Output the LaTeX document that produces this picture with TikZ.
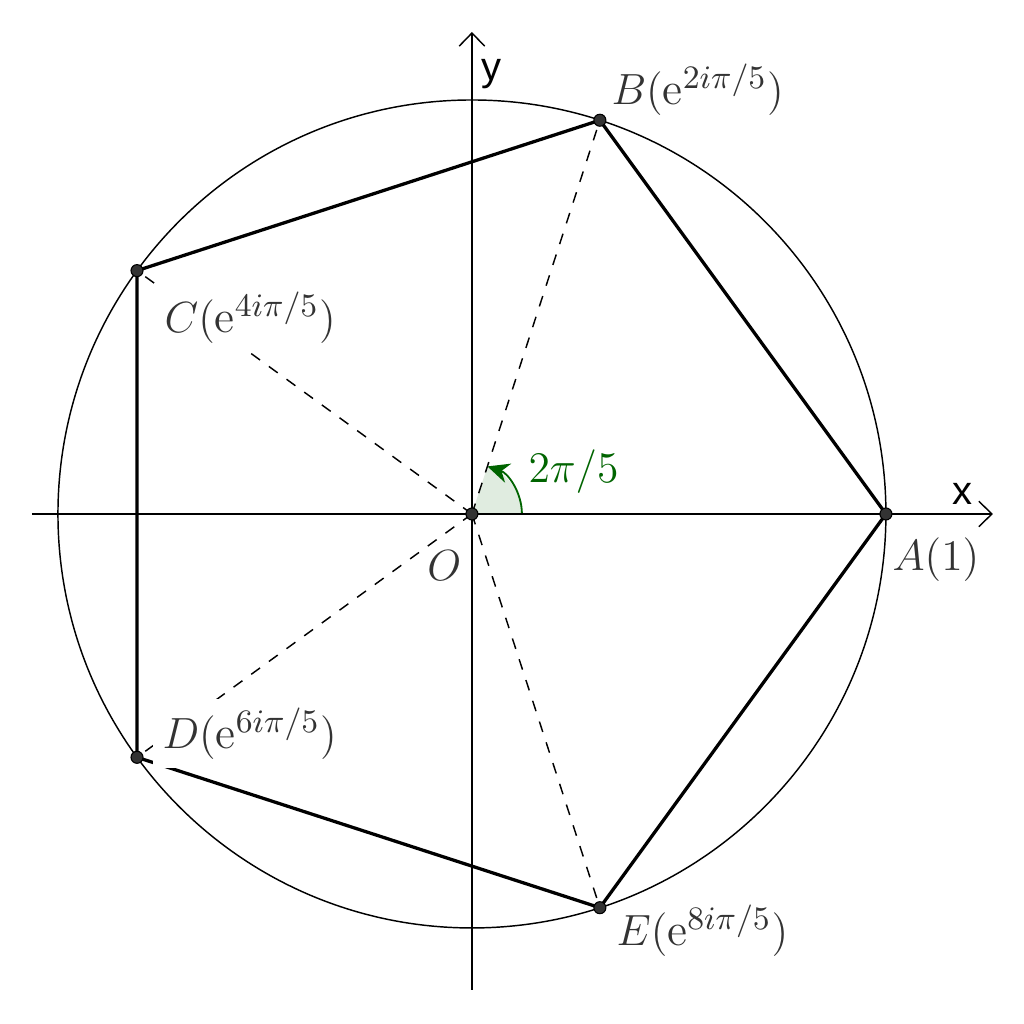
\documentclass[tikz,border=0pt]{standalone}
\usepackage{fontspec}
\newfontfamily\axisfont{Liberation Sans}
\usetikzlibrary{arrows.meta}
\definecolor{labelgray}{RGB}{51,51,51}
\definecolor{anglegreen}{RGB}{0,100,0}

\tikzset{
    pt/.style={circle, fill=black!80, draw=black, line width=0.3pt, inner sep=0pt, minimum size=3.3pt},
    lbl/.style={inner sep=2.5pt, text=labelgray, font=\fontsize{12.6}{15}\selectfont},
    lblbg/.style={lbl, fill=white},
    axislbl/.style={font=\axisfont\fontsize{11}{13}\selectfont, inner sep=0pt},
    axisarrow/.style={->, >={Straight Barb[length=3.6pt,width=7pt]}, line width=0.4pt},
}

\begin{document}
\begin{tikzpicture}
    \useasboundingbox (-4.560,-4.928) rectangle (5.333,4.966);

    \coordinate (O) at (0,0);
    \coordinate (A) at (0:4);
    \coordinate (B) at (72:4);
    \coordinate (C) at (144:4);
    \coordinate (D) at (216:4);
    \coordinate (E) at (288:4);
    \coordinate (xmin) at (-4.251,0);
    \coordinate (xmax) at (5.034,0);
    \coordinate (ymin) at (0,-4.599);
    \coordinate (ymax) at (0,4.657);
    \coordinate (a0) at (0:0.483);

    % angle sector
    \fill[anglegreen!12] (O) -- (a0) arc (0:72:0.483) -- cycle;

    \draw[line width=0.4pt] (O) circle (4);
    \draw[axisarrow] (xmin) -- (xmax);
    \draw[axisarrow] (ymin) -- (ymax);

    \draw[-{Stealth[length=6pt,width=5.5pt]}, anglegreen, line width=0.5pt] (a0) arc (0:72:0.483);

    \foreach \p in {A,B,C,D,E}
        \draw[dashed, line width=0.4pt] (O) -- (\p);

    \draw[line width=0.9pt] (A) -- (B) -- (C) -- (D) -- (E) -- cycle;

    % labels
    \node[lbl, anchor=base west, xshift=0.018cm, yshift=0.155cm] (labB) at (B) {$B(\mathrm{e}^{2i\pi/5})$};
    \node[lblbg, anchor=base west, xshift=0.172cm, yshift=-0.6cm] (labC) at (C) {$C(\mathrm{e}^{4i\pi/5})$};
    \node[lblbg, anchor=base west, xshift=0.152cm, yshift=0.087cm] (labD) at (D) {$D(\mathrm{e}^{6i\pi/5})$};
    \node[lbl, anchor=base west, xshift=0.067cm, yshift=-0.367cm] (labE) at (E) {$E(\mathrm{e}^{8i\pi/5})$};
    \node[lbl, anchor=base west, xshift=-0.03cm, yshift=-0.55cm] (labA) at (A) {$A(1)$};
    \node[lbl, anchor=base east, xshift=-0.009cm, yshift=-0.64cm] (labO) at (O) {$O$};
    \node[anchor=base west, inner sep=0pt, text=anglegreen, font=\fontsize{13}{15}\selectfont] (labang) at (0.54,0.3) {$2\pi/5$};

    \node[axislbl, anchor=base] (labx) at (4.74,0.087) {x};
    \node[axislbl, anchor=base] (laby) at (0.19,4.19) {y};

    % points
    \foreach \p in {O,A,B,C,D,E}
        \node[pt] (dot\p) at (\p) {};
\end{tikzpicture}
\end{document}
